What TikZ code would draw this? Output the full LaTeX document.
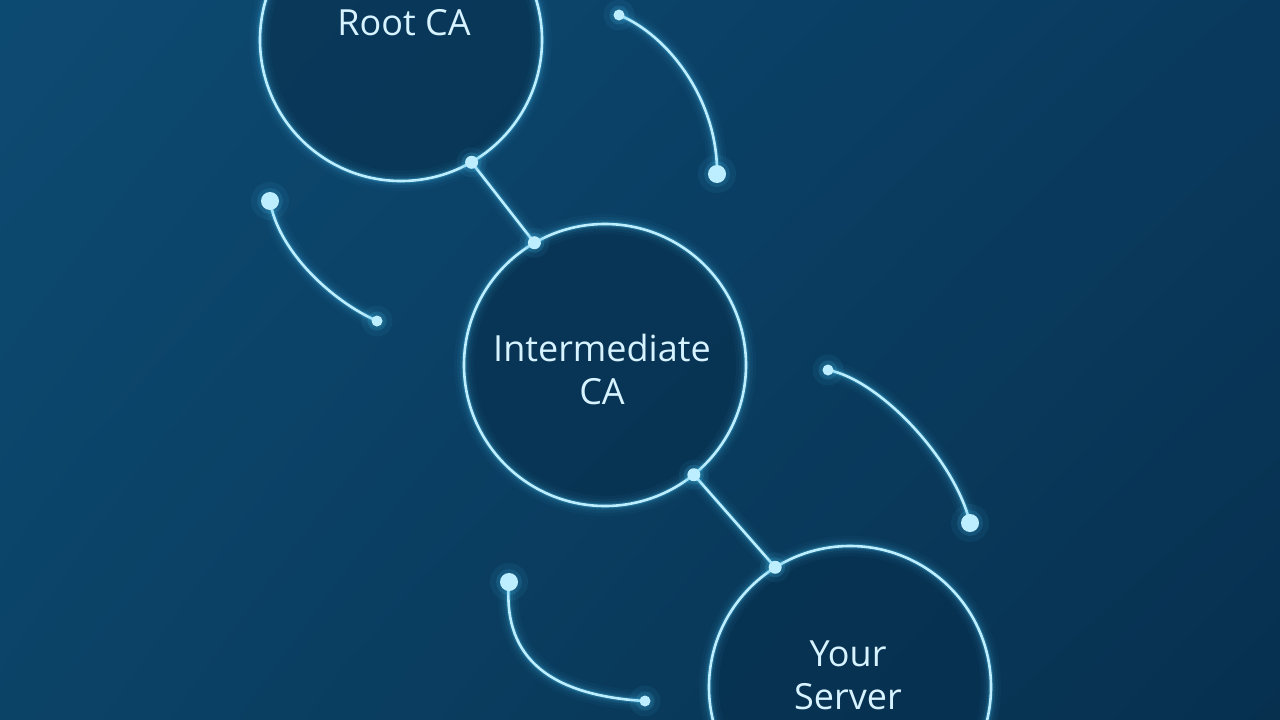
\documentclass[tikz,border=0pt]{standalone}
\usepackage{fontspec}
\usetikzlibrary{shadings}
\setmainfont{Open Sans}
\definecolor{bgtl}{HTML}{0D4A72}
\definecolor{bgtr}{HTML}{093A5E}
\definecolor{bgbl}{HTML}{0B4367}
\definecolor{bgbr}{HTML}{07304F}
\definecolor{ringin}{HTML}{072F4D}
\definecolor{glowc}{HTML}{45BDEB}
\definecolor{linec}{HTML}{BDEEFF}
\definecolor{textc}{HTML}{D6F3FF}
\newcommand{\glowpath}[1]{%
  \foreach \w/\o in {20/0.04,14/0.06,9/0.1,5/0.25}
    \draw[glowc,line width=\w pt,opacity=\o] #1;
  \draw[linec,line width=2.6pt] #1;}
\begin{document}
\begin{tikzpicture}[x=1pt,y=-1pt,line cap=round,line join=round]
  \tikzset{ring/.style={circle,minimum size=282pt,inner sep=0pt},
    caption/.style={text=textc,font=\fontsize{36}{43}\selectfont,align=center},
    knot/.style={linec}}
  % background
  \shade[upper left=bgtl,upper right=bgtr,lower left=bgbl,lower right=bgbr]
    (0,0) rectangle (1280,720);
  \useasboundingbox (0,0) rectangle (1280,720);
  % rings
  \node[ring] (root) at (401,40) {};
  \node[ring] (mid) at (605,365) {};
  \node[ring] (srv) at (850,687) {};
  \foreach \n in {root,mid,srv}{
    \fill[ringin,opacity=0.6] (\n.center) circle[radius=141];
    \glowpath{(\n.center) circle[radius=141]}
  }
  % links
  \glowpath{(root.-60.5) -- (mid.120)}
  \glowpath{(mid.-51) -- (srv.122)}
  \foreach \p in {root.-60.5,mid.120,mid.-51,srv.122}{
    \fill[glowc,opacity=0.08] (\p) circle[radius=15];
    \fill[glowc,opacity=0.15] (\p) circle[radius=10];
    \fill[knot] (\p) circle[radius=6.5];
  }
  % loose arcs
  \coordinate (a1) at (619,15);  \coordinate (a2) at (717,174);
  \coordinate (b1) at (270,201); \coordinate (b2) at (377,321);
  \coordinate (c1) at (828,370); \coordinate (c2) at (970,523);
  \coordinate (d1) at (509,582); \coordinate (d2) at (645,701);
  \glowpath{(a1) .. controls (668,35) and (718,100) .. (a2)}
  \glowpath{(b1) .. controls (278,250) and (330,300) .. (b2)}
  \glowpath{(c1) .. controls (880,380) and (955,460) .. (c2)}
  \glowpath{(d1) .. controls (503,650) and (540,695) .. (d2)}
  \foreach \p/\r in {a1/5.5,a2/9,b1/9,b2/5.5,c1/5.5,c2/9,d1/9,d2/5.5}{
    \fill[glowc,opacity=0.08] (\p) circle[radius=\r+10];
    \fill[glowc,opacity=0.15] (\p) circle[radius=\r+4];
    \fill[knot] (\p) circle[radius=\r];
  }
  % labels
  \node[caption] (roottxt) at (404,23) {Root CA};
  \node[caption] (midtxt) at (602,369) {Intermediate\\CA};
  \node[caption] (srvtxt) at (848,675) {Your\\Server};
\end{tikzpicture}
\end{document}
